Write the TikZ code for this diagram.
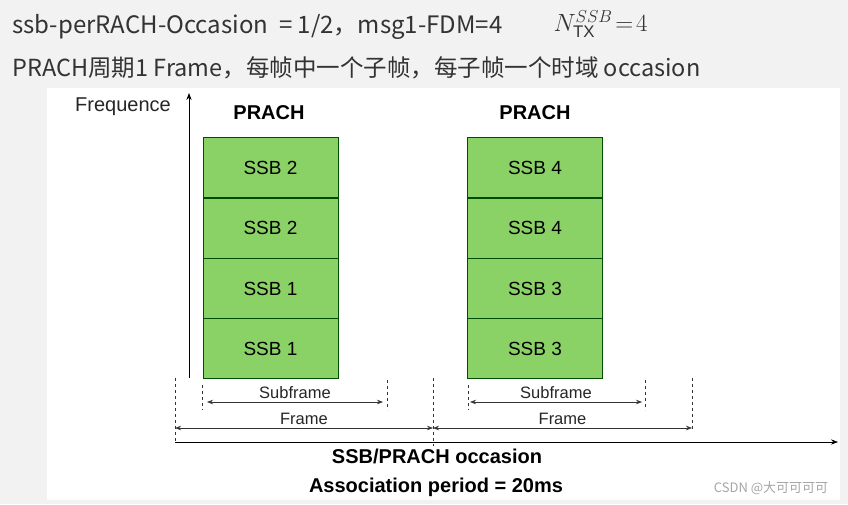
\documentclass[tikz,border=0pt]{standalone}
\usepackage{fontspec}
\setmainfont{Liberation Sans}
\newfontfamily\cjk{Noto Sans CJK SC}
\usetikzlibrary{arrows.meta}
\begin{document}
\begin{tikzpicture}[x=1pt,y=-1pt,
  cell/.style={draw=black!70!green,fill=green!55!lime!70!black!60!white,minimum width=135pt,minimum height=60pt,font=\fontsize{19}{19}\selectfont,inner sep=0pt,line width=0.7pt},
  dsh/.style={dashed,line width=0.7pt,black!80},
  dim/.style={{Stealth[length=6pt]}-{Stealth[length=6pt]},line width=0.7pt,black!80},
  lab/.style={font=\fontsize{16.5}{16.5}\selectfont,text=black!85},
  blab/.style={font=\bfseries\fontsize{20}{20}\selectfont}]
\useasboundingbox (0,0) rectangle (848,504);
\fill[black!5] (0,0) rectangle (848,504);
\fill[white] (47,88) rectangle (840,500);
\node[anchor=west,font=\cjk\fontsize{24}{24}\selectfont,text=black!80] (l1) at (9,27) {ssb-perRACH-Occasion \ = 1/2，msg1-FDM=4};
\node[anchor=west,font=\fontsize{24}{24}\selectfont,text=black!80] (nt) at (550,24) {$N_{\mathrm{TX}}^{SSB}\!=\!4$};
\node[anchor=west,font=\cjk\fontsize{23.5}{23.5}\selectfont,text=black!80] (l2) at (9,68) {PRACH周期1 Frame，每帧中一个子帧，每子帧一个时域 occasion};
\node[lab,font=\fontsize{20}{20}\selectfont] (fq) at (123,107) {Frequence};
\coordinate (ya) at (189,378); \coordinate (yb) at (189,93);
\draw[-{Stealth[length=7pt]},line width=0.7pt] (ya) -- (yb);
\node[blab] (p1) at (269,113) {PRACH};
\node[blab] (p2) at (535,113) {PRACH};
\foreach \t/\y/\n in {SSB 2/167.5/a,SSB 2/228/b,SSB 1/288.5/c,SSB 1/348.5/d}
  \node[cell] (L\n) at (270.5,\y) {\t};
\foreach \t/\y/\n in {SSB 4/167.5/a,SSB 4/228/b,SSB 3/288.5/c,SSB 3/348.5/d}
  \node[cell] (R\n) at (535,\y) {\t};
% dashed
\foreach \x/\a/\b/\n in {175/378/442/d1,202.5/385/410/d2,387/380/410/d3,433/378/446/d4,468/385/410/d5,645/380/410/d6,692/378/431/d7}{
  \coordinate (\n a) at (\x,\a); \coordinate (\n b) at (\x,\b);
  \draw[dsh] (\n a) -- (\n b);}
\coordinate (s1a) at (207,402); \coordinate (s1b) at (383,402);
\coordinate (s2a) at (470,402); \coordinate (s2b) at (642,402);
\draw[dim] (s1a) -- node[lab,above=0pt] (sf1) {Subframe} (s1b);
\draw[dim] (s2a) -- node[lab,above=0pt] (sf2) {Subframe} (s2b);
\coordinate (f1a) at (175,428); \coordinate (f1b) at (433,428); \coordinate (f2b) at (692,428);
\draw[dim] (f1a) -- node[lab,above=0pt] (fr1) {Frame} (f1b);
\draw[dim] (f1b) -- node[lab,above=0pt] (fr2) {Frame} (f2b);
\coordinate (xa) at (175,442); \coordinate (xb) at (838,442);
\draw[-{Stealth[length=7pt]},line width=0.7pt] (xa) -- (xb);
\node[blab] (sp) at (437,456) {SSB/PRACH occasion};
\node[blab] (ap) at (436,487) {Association period = 20ms};
\node[font=\cjk\fontsize{13}{13}\selectfont,text=black!35] (wm) at (771,488) {CSDN @大可可可可};
\end{tikzpicture}
\end{document}
